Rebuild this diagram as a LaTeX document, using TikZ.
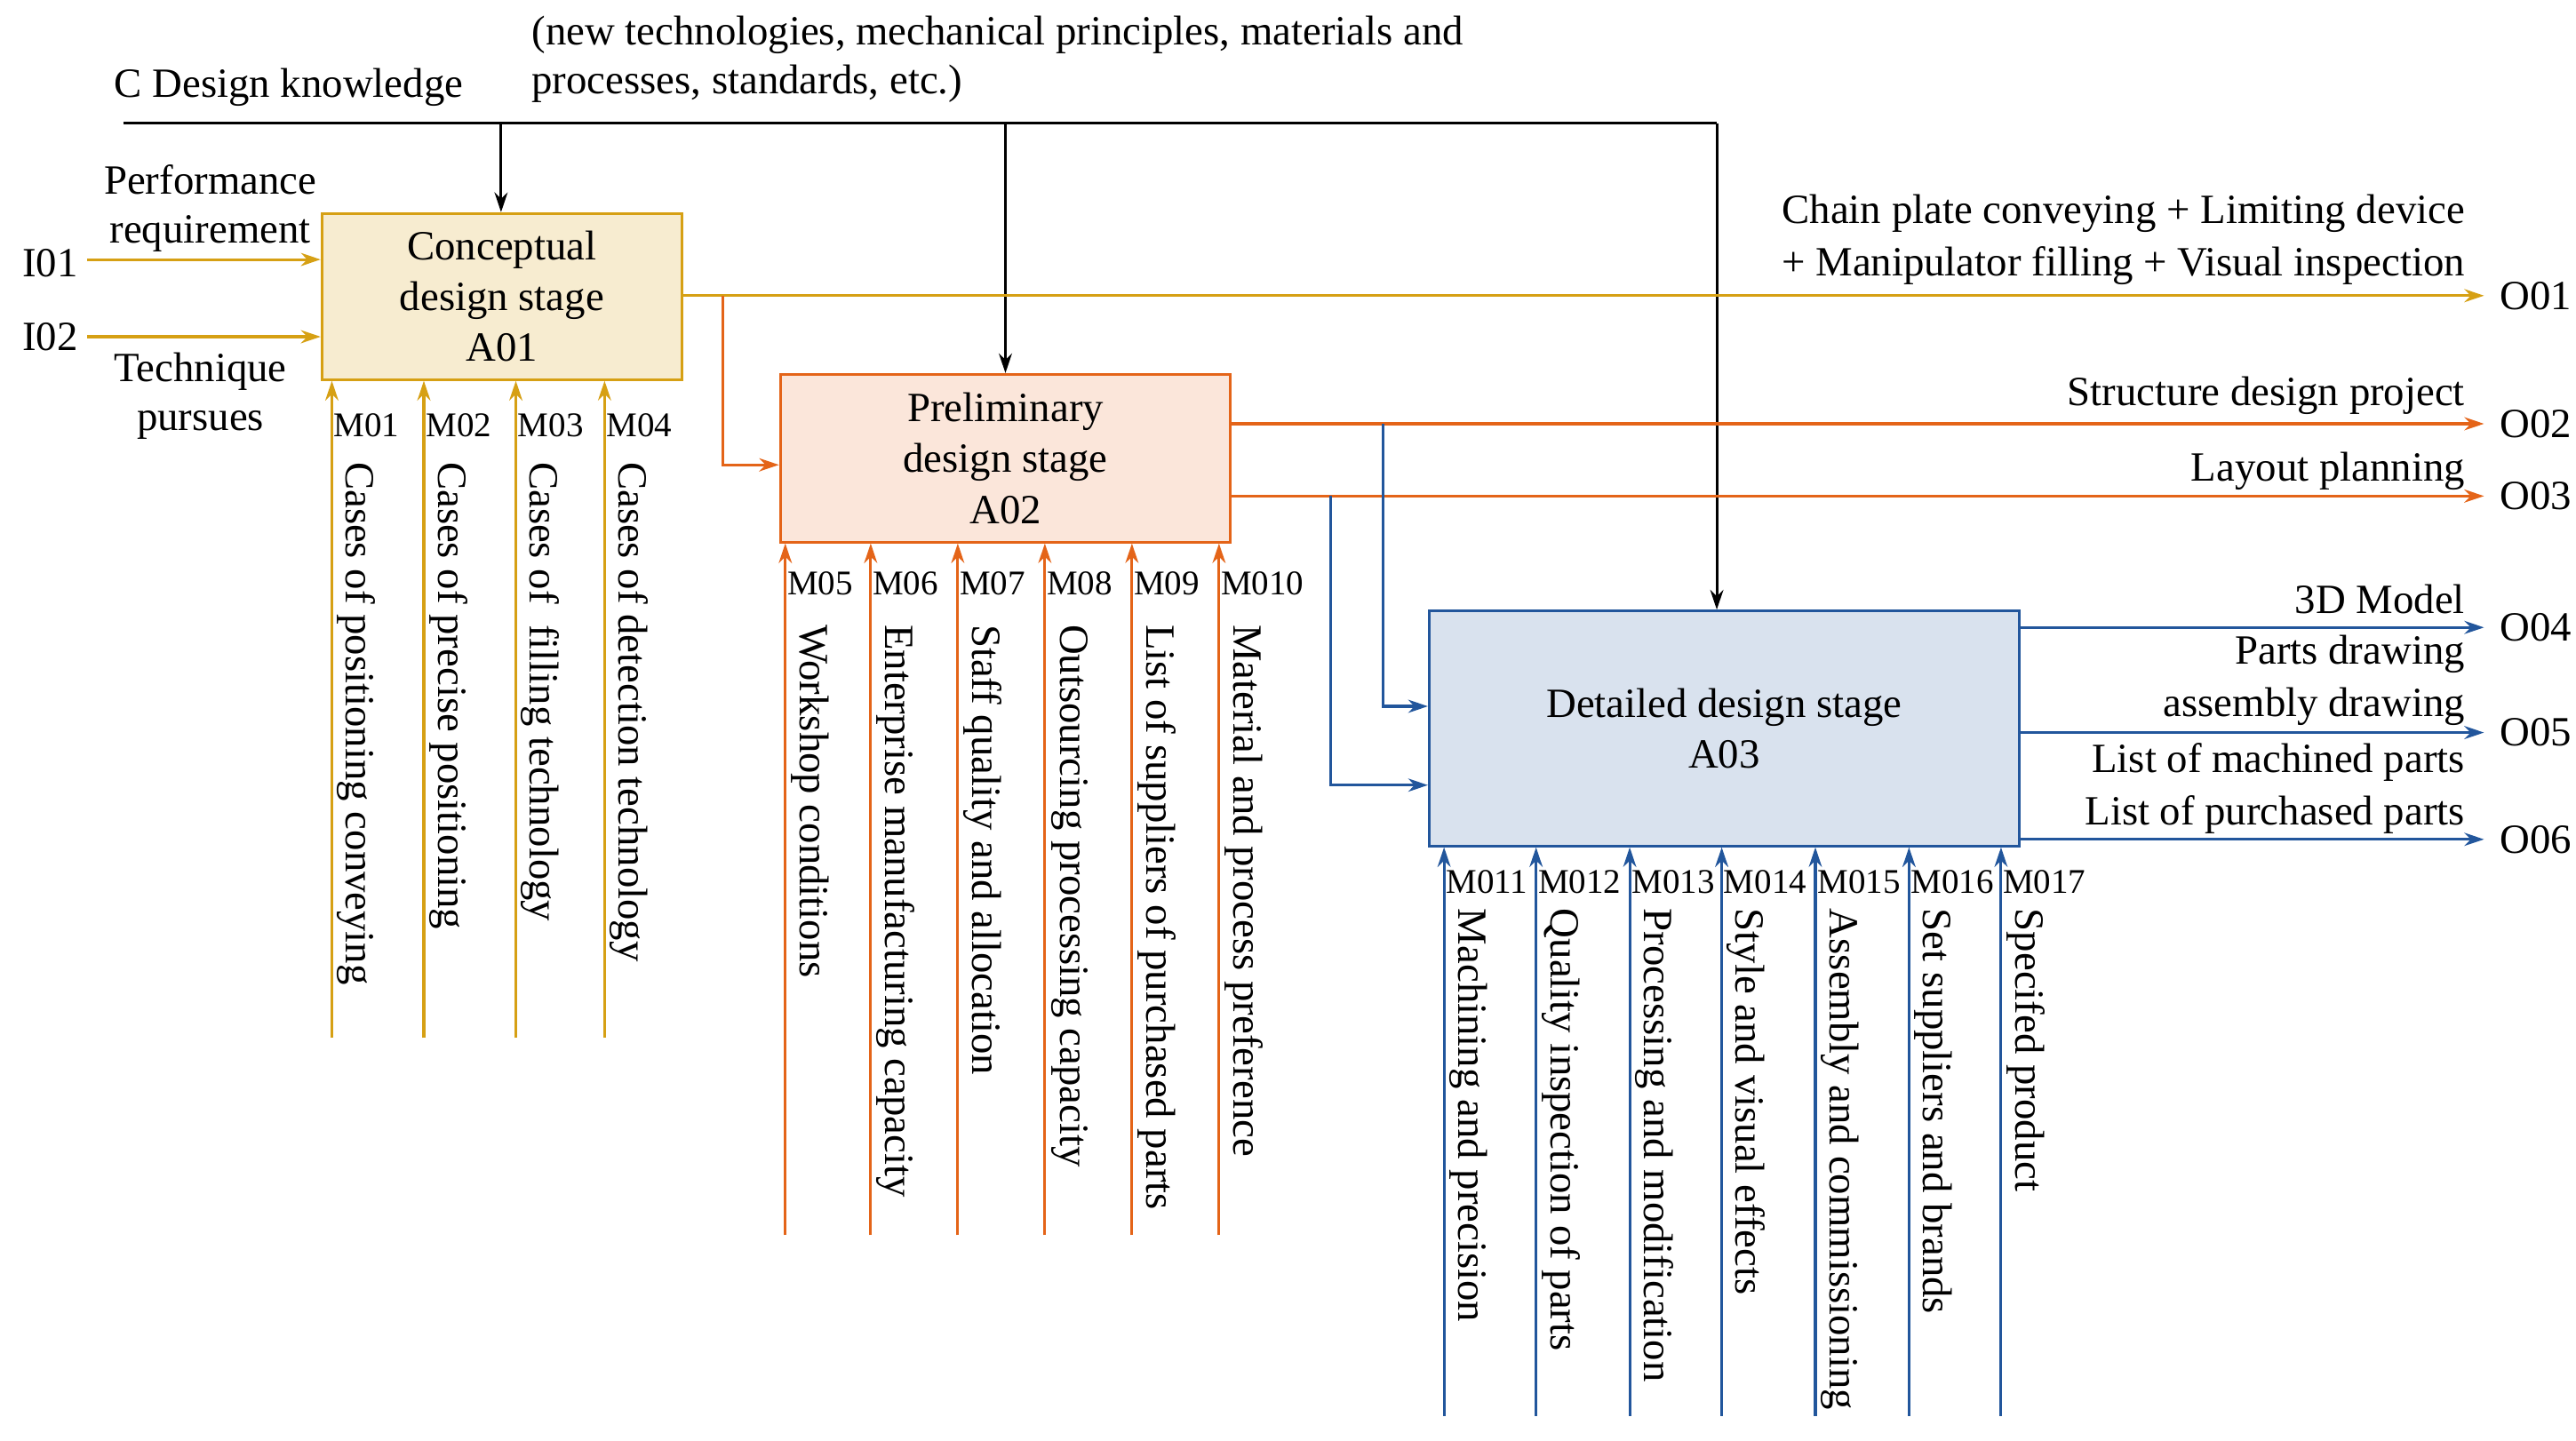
\documentclass[tikz,border=0pt]{standalone}
\usepackage{fontspec}
\setmainfont{Liberation Serif}
\usetikzlibrary{arrows.meta}
\definecolor{idefgold}{RGB}{214,160,20}
\definecolor{ideforange}{RGB}{228,100,24}
\definecolor{idefblue}{RGB}{34,86,156}
\tikzset{
  stage/.style={draw, line width=1.2pt, inner sep=0pt, align=center, font=\fontsize{18}{22}\selectfont},
  flow/.style={line width=1.2pt, -{Stealth[length=3mm,width=2mm]}},
  lbl/.style={font=\fontsize{18}{21}\selectfont, inner sep=1pt},
  mlbl/.style={font=\fontsize{15}{17}\selectfont, inner sep=0pt},
  vlbl/.style={font=\fontsize{18}{21}\selectfont, rotate=-90, anchor=west, inner sep=0pt}
}
\begin{document}
\begin{tikzpicture}[x=0.25mm, y=-0.25mm]
\useasboundingbox (0,0) rectangle (1568,877);
% boxes
\node[stage, idefgold, fill=idefgold!20, text=black, minimum width=54.75mm, minimum height=25.25mm] (a01) at (305.5,180.5) {Conceptual\\design stage\\A01};
\node[stage, ideforange, fill=ideforange!16, text=black, minimum width=68.5mm, minimum height=25.5mm] (a02) at (612,279) {Preliminary\\design stage\\A02};
\node[stage, idefblue, fill=idefblue!17, text=black, minimum width=89.75mm, minimum height=35.75mm] (a03) at (1049.5,443.5) {Detailed design stage\\A03};
% control
\coordinate (cstart) at (75,75);
\coordinate (cend) at (1045,75);
\node[lbl, anchor=west] (clbl) at (68,53) {C Design knowledge};
\node[lbl, anchor=west, align=left] (cnote) at (322,36) {(new technologies, mechanical principles, materials and\\processes, standards, etc.)};
\draw[line width=1.2pt] (cstart) -- (cend);
\draw[flow] (305,75) -- (305,75 |- a01.north);
\draw[flow] (612,75) -- (612,75 |- a02.north);
\draw[flow] (cend) -- (cend |- a03.north);
% inputs
\node[lbl, anchor=west] (i01) at (12,160) {I01};
\node[lbl, anchor=west] (i02) at (12,205) {I02};
\draw[flow, idefgold] (i01.east) ++(4,-2) -- (a01.west |- 0,158);
\draw[flow, idefgold] (i02.east) ++(4,0) -- (a01.west |- 0,205);
\node[lbl, align=center] (perf) at (128,127) {Performance\\requirement};
\node[lbl, align=center] (tech) at (122,241) {Technique\\pursues};
% outputs
\coordinate (o1end) at (1512,180);
\coordinate (o2end) at (1512,258);
\coordinate (o3end) at (1512,302);
\coordinate (o4end) at (1512,382);
\coordinate (o5end) at (1512,446);
\coordinate (o6end) at (1512,511);
\foreach \o/\n in {o1end/O01,o2end/O02,o3end/O03,o4end/O04,o5end/O05,o6end/O06}
  \node[lbl, anchor=west] at ([xshift=2mm]\o) {\n};
\draw[flow, idefgold] (a01.east |- o1end) -- (o1end);
\draw[flow, ideforange] (440,180) -- (440,283) -- (a02.west |- 0,283);
\draw[flow, ideforange] (a02.east |- o2end) -- (o2end);
\draw[flow, ideforange] (a02.east |- o3end) -- (o3end);
\draw[flow, idefblue] (842,258) -- (842,430) -- (a03.west |- 0,430);
\draw[flow, idefblue] (810,302) -- (810,478) -- (a03.west |- 0,478);
\draw[flow, idefblue] (a03.east |- o4end) -- (o4end);
\draw[flow, idefblue] (a03.east |- o5end) -- (o5end);
\draw[flow, idefblue] (a03.east |- o6end) -- (o6end);
\node[lbl, anchor=east] at (1502,130) {Chain plate conveying + Limiting device};
\node[lbl, anchor=east] at (1502,162) {+ Manipulator filling + Visual inspection};
\node[lbl, anchor=east] at (1502,241) {Structure design project};
\node[lbl, anchor=east] at (1502,287) {Layout planning};
\node[lbl, anchor=east] at (1502,365) {3D Model};
\node[lbl, anchor=east] at (1502,398) {Parts drawing};
\node[lbl, anchor=east] at (1502,430) {assembly drawing};
\node[lbl, anchor=east] at (1502,464) {List of machined parts};
\node[lbl, anchor=east] at (1502,496) {List of purchased parts};
% mechanisms A01
\foreach \x/\m/\t in {202/M01/Cases of positioning conveying, 258/M02/Cases of precise positioning,
    314/M03/Cases of~~filling technology, 368/M04/Cases of detection technology} {
  \coordinate (\m) at (\x,632);
  \draw[flow, idefgold] (\m) -- (\m |- a01.south);
  \node[mlbl, anchor=west] at (\x+1,259) {\m};
  \node[vlbl] at (\x+15,281) {\t};
}
% mechanisms A02
\foreach \x/\m/\t in {478/M05/Workshop conditions, 530/M06/Enterprise manufacturing capacity,
    583/M07/Staff quality and allocation, 636/M08/Outsourcing processing capacity,
    689/M09/List of suppliers of purchased parts, 742/M010/Material and process preference} {
  \coordinate (\m) at (\x,752);
  \draw[flow, ideforange] (\m) -- (\m |- a02.south);
  \node[mlbl, anchor=west] at (\x+1,355) {\m};
  \node[vlbl] at (\x+15,380) {\t};
}
% mechanisms A03
\foreach \x/\m/\t in {879/M011/Machining and precision, 935/M012/Quality inspection of parts,
    992/M013/Processing and modification, 1048/M014/Style and visual effects,
    1105/M015/Assembly and commissioning, 1162/M016/Set suppliers and brands,
    1218/M017/Specifed product} {
  \coordinate (\m) at (\x,862);
  \draw[flow, idefblue] (\m) -- (\m |- a03.south);
  \node[mlbl, anchor=west] at (\x+1,537) {\m};
  \node[vlbl] at (\x+15,553) {\t};
}
\end{tikzpicture}
\end{document}
